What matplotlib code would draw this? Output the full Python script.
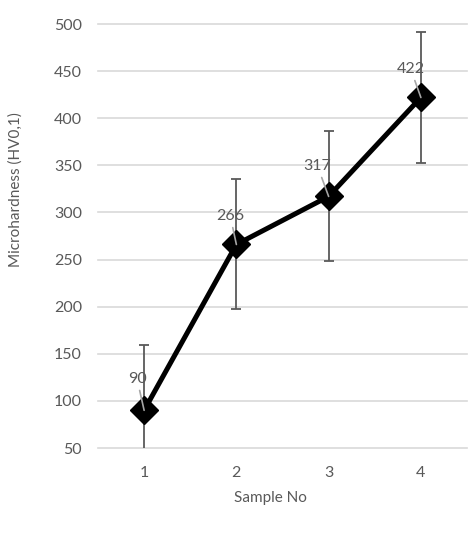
import matplotlib
matplotlib.use("Agg")
import matplotlib.pyplot as plt

samples = [1, 2, 3, 4]
hardness = [90, 266, 317, 422]
errors = [69, 69, 69, 69]
yticks = [50, 100, 150, 200, 250, 300, 350, 400, 450, 500]
label_dx = [-7, -6, -11, -10]  # pixel offsets of data labels
label_dy = [31, 28, 30, 28]

plt.rcParams['font.family'] = ['Lato', 'DejaVu Sans']
txt = '#595959'
fs = 11.5

fig = plt.figure(figsize=(4.74, 5.37), dpi=100)
ax = fig.add_axes([98/474, 89/537, (467-98)/474, (513-89)/537])

ax.set_ylim(50, 500)
ax.set_xlim(0.5, 4.5)
ax.set_yticks(yticks)
ax.set_xticks(samples)
ax.grid(axis='y', color='#d9d9d9', linewidth=1.2)
for gl in ax.get_ygridlines():
    gl.set_clip_on(False)
ax.set_axisbelow(True)
for s in ax.spines.values():
    s.set_visible(False)
ax.tick_params(length=0, labelsize=fs, colors=txt)
ax.tick_params(axis='x', pad=13)
ax.tick_params(axis='y', pad=11.5)

ax.errorbar(samples, hardness, yerr=errors, fmt='none', ecolor='#595959',
            elinewidth=1.3, capsize=3.5, capthick=1.3, zorder=2)
ax.plot(samples, hardness, color='black', linewidth=3.6, marker='D',
        markersize=14, zorder=3)

px = 72 / 100
for x, y, dx, dy in zip(samples, hardness, label_dx, label_dy):
    ax.annotate(str(y), xy=(x, y), xytext=(dx * px, dy * px),
                textcoords='offset points', ha='center', va='center',
                fontsize=fs, color=txt, zorder=5,
                arrowprops=dict(arrowstyle='-', color='#a6a6a6', lw=1.2,
                                shrinkA=1, shrinkB=0))

ax.set_xlabel('Sample No', color=txt, fontsize=11)
ax.set_ylabel('Microhardness (HV0,1)', color=txt, fontsize=11)
ax.xaxis.set_label_coords((270-98)/369, -(498-448)/424)
ax.xaxis.label.set_va('center')
ax.yaxis.set_label_coords((16-98)/369, (448-190)/424)
ax.yaxis.label.set_va('center')

fig.savefig('out.png', dpi=100)
